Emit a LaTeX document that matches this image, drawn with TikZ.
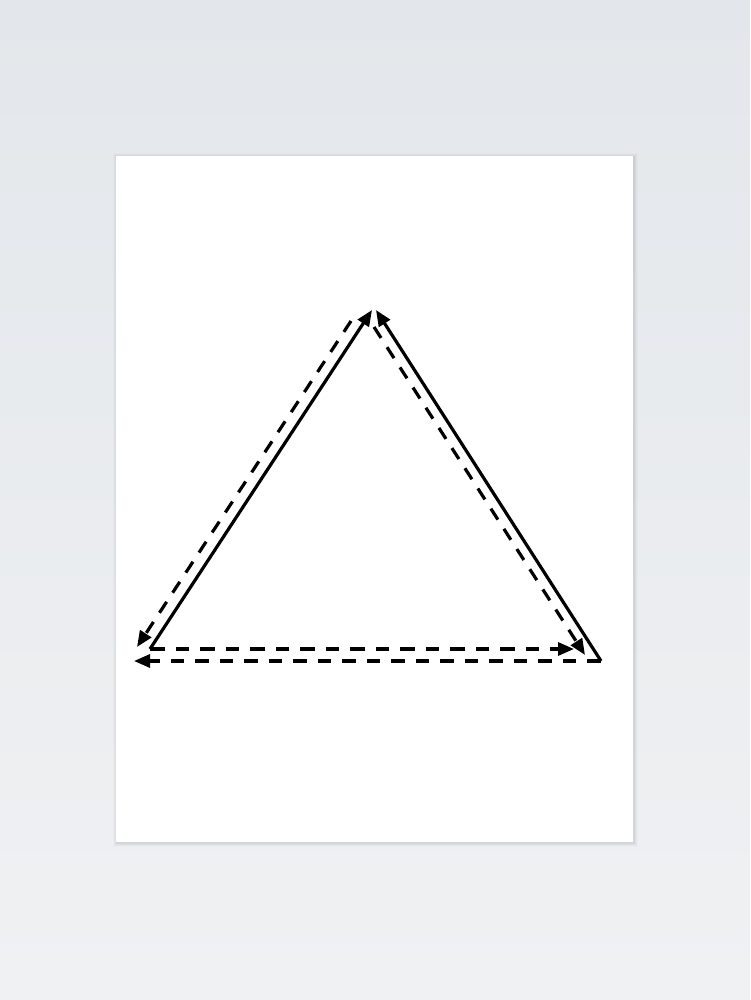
\documentclass[tikz,border=0pt]{standalone}
\usetikzlibrary{arrows.meta}
\definecolor{bgtop}{HTML}{E3E7EB}
\definecolor{bgbot}{HTML}{F0F1F3}
\tikzset{
  solidarrow/.style={line width=3.2pt,-{Triangle[length=16pt,width=13pt]}},
  dasharrow/.style={line width=3.2pt,dash pattern=on 13pt off 11pt,-{Triangle[length=16pt,width=13pt]}},
}
\begin{document}
\begin{tikzpicture}[x=1pt,y=-1pt]
\useasboundingbox (0,0) rectangle (750,1000);
\shade[top color=bgtop,bottom color=bgbot] (0,0) rectangle (750,1000);
% poster shadow
\foreach \d/\o in {4/0.015,3/0.02,2/0.03,1/0.04}{
  \fill[black,opacity=\o] (116-\d+1,156-\d+1) rectangle (633+\d+1,842+\d+1);
}
\fill[white] (116,156) rectangle (633,842);
% corners
\coordinate (BL) at (150,649);
\coordinate (BR) at (601,661);
\coordinate (AL) at (372,310);
\coordinate (AR) at (376,310);
\coordinate (DLs) at (351,321);
\coordinate (DLe) at (137,647);
\coordinate (DRs) at (374,327);
\coordinate (DRe) at (585,655);
\coordinate (BRt) at (574,649);
\coordinate (BLb) at (134,661);
% solid sides
\draw[solidarrow] (BL) -- (AL);
\draw[solidarrow] (BR) -- (AR);
% dashed sides
\draw[dasharrow] (DLs) -- (DLe);
\draw[dasharrow] (DRs) -- (DRe);
% bottom dashed
\draw[dasharrow,dash pattern=on 15pt off 11pt on 13pt off 11pt] (BL) -- (BRt);
\draw[dasharrow,dash pattern=on 14pt off 11pt on 13pt off 11pt] (BR) -- (BLb);
\end{tikzpicture}
\end{document}
